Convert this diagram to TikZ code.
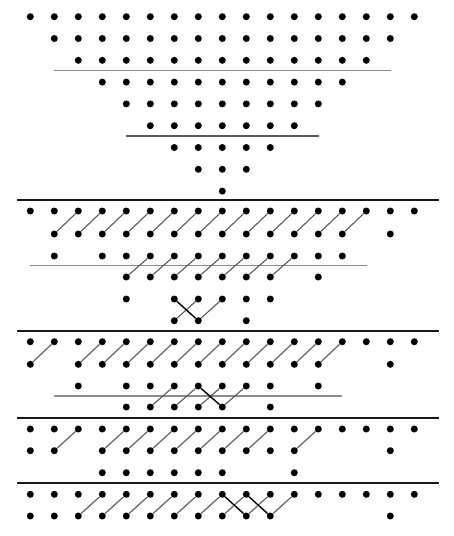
\documentclass[tikz,border=0pt]{standalone}
\begin{document}
\begin{tikzpicture}[x=1pt,y=-1pt,
  dot/.style={circle,fill=black,inner sep=0pt,minimum size=7pt},
  link/.style={draw=black!65,line width=1.1pt},
  swap/.style={draw=black,line width=1.4pt},
  thinrule/.style={draw=black!45,line width=1.5pt},
  midrule/.style={draw=black!65,line width=1.6pt},
  thickrule/.style={draw=black!90,line width=2.2pt}]
\useasboundingbox (0,0) rectangle (454,536);
\newcommand\dotrow[3]{\foreach \c in {#3} \node[dot] (#1-\c) at ({30.3+24*\c},#2) {};}
% section 1
\dotrow{a}{16.7}{0,...,16}
\dotrow{b}{38.5}{1,...,15}
\dotrow{c}{60.3}{2,...,14}
\dotrow{d}{82.1}{3,...,13}
\dotrow{e}{103.9}{4,...,12}
\dotrow{f}{125.7}{5,...,11}
\dotrow{g}{147.5}{6,...,10}
\dotrow{h}{169.3}{7,8,9}
\dotrow{i}{191.1}{8}
\coordinate (r1a) at (54,70.7); \coordinate (r1b) at (391,70.7);
\coordinate (r2a) at (125.7,135.7); \coordinate (r2b) at (319,135.7);
\coordinate (t1a) at (17.3,200); \coordinate (t1b) at (439.3,200);
\draw[thinrule] (r1a) -- (r1b);
\draw[midrule] (r2a) -- (r2b);
\draw[thickrule] (t1a) -- (t1b);
% section 2
\dotrow{A}{211}{0,...,16}
\dotrow{B}{234}{1,...,13,15}
\dotrow{C}{256}{1,3,4,...,13}
\dotrow{D}{277}{4,...,10,12}
\dotrow{E}{299}{4,6,7,8,9,10}
\dotrow{F}{320.7}{6,7,9}
\coordinate (r3a) at (30,265.7); \coordinate (r3b) at (366.7,265.7);
\draw[thinrule] (r3a) -- (r3b);
\foreach \i [evaluate=\i as \j using int(\i+1)] in {1,...,13} \draw[link] (B-\i) -- (A-\j);
\foreach \i [evaluate=\i as \j using int(\i+1)] in {4,...,10} \draw[link] (D-\i) -- (C-\j);
\draw[link] (F-6) -- (E-7);
\draw[link] (F-7) -- (E-8);
\draw[swap] (E-6) -- (F-7);
\coordinate (t2a) at (17.3,331); \coordinate (t2b) at (439.3,331);
\draw[thickrule] (t2a) -- (t2b);
% section 3
\dotrow{G}{341.7}{0,...,16}
\dotrow{H}{364.3}{0,2,3,...,12,15}
\dotrow{I}{386}{2,4,5,...,10,12}
\dotrow{J}{407}{4,5,6,7,8,10}
\coordinate (r4a) at (54,396); \coordinate (r4b) at (341.7,396);
\draw[thinrule] (r4a) -- (r4b);
\foreach \i [evaluate=\i as \j using int(\i+1)] in {0,2,3,...,12} \draw[link] (H-\i) -- (G-\j);
\foreach \i [evaluate=\i as \j using int(\i+1)] in {5,...,8} \draw[link] (J-\i) -- (I-\j);
\draw[swap] (I-7) -- (J-8);
\coordinate (t3a) at (17.3,417.7); \coordinate (t3b) at (439.3,417.7);
\draw[thickrule] (t3a) -- (t3b);
% section 4
\dotrow{K}{429}{0,...,16}
\dotrow{L}{450.7}{0,1,3,4,...,11,15}
\dotrow{M}{472.7}{3,4,...,8,11}
\foreach \i [evaluate=\i as \j using int(\i+1)] in {1,3,4,5,6,7,8,9,11} \draw[link] (L-\i) -- (K-\j);
\coordinate (t4a) at (17.3,482.7); \coordinate (t4b) at (439.3,482.7);
\draw[thickrule] (t4a) -- (t4b);
\dotrow{N}{494.3}{0,...,16}
\dotrow{O}{516}{0,1,...,10,15}
\foreach \i [evaluate=\i as \j using int(\i+1)] in {2,...,10} \draw[link] (O-\i) -- (N-\j);
\draw[swap] (N-8) -- (O-9);
\draw[swap] (N-9) -- (O-10);
\end{tikzpicture}
\end{document}
